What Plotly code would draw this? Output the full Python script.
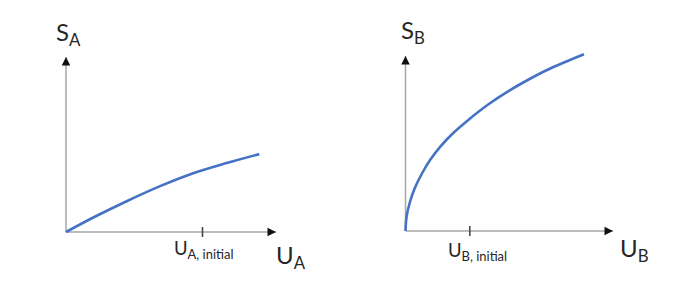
import plotly.graph_objects as go

# ---- data ----
u_a = [0, 1.30, 2.89, 4.48, 6.06, 7.65, 9.20]
s_a = [0, 0.83, 1.76, 2.62, 3.36, 3.94, 4.45]
u_b = [0, 0.05, 0.2, 0.45, 0.8, 1.2, 1.7, 2.3, 3.0, 4.0, 5.0, 6.0, 7.0, 8.6]
s_b = [0, 0.8, 1.6, 2.45, 3.3, 4.08, 4.85, 5.6, 6.32, 7.24, 8.02, 8.7, 9.3, 10.1]
u_a_initial = 6.5
u_b_initial = 3.1
axis_max = 10

W, H = 690, 296
RNG = [-1.5, 11.5]
CURVE = "#4472C4"
AXIS = "#a6a6a6"
TXT = "#262626"
FONT = "Lato"


def dom_x(origin, scale):
    return [(origin + scale * RNG[0]) / W, (origin + scale * RNG[1]) / W]


def dom_y(origin, scale):
    return [1 - (origin - scale * RNG[0]) / H, 1 - (origin - scale * RNG[1]) / H]


fig = go.Figure()
annotations = []

for xa, ya, u_init in (("x", "y", u_a_initial), ("x2", "y2", u_b_initial)):
    # axes drawn as gray shafts
    for ax_x, ax_y in (([0, axis_max], [0, 0]), ([0, 0], [0, axis_max])):
        fig.add_trace(go.Scatter(
            x=ax_x, y=ax_y, mode="lines", xaxis=xa, yaxis=ya,
            line=dict(color=AXIS, width=1.5),
            showlegend=False, hoverinfo="skip"))
    # tick mark at initial U
    fig.add_trace(go.Scatter(
        x=[u_init], y=[0], mode="markers", xaxis=xa, yaxis=ya,
        marker=dict(symbol="line-ns", size=7, line=dict(color="#404040", width=1.5)),
        showlegend=False, hoverinfo="skip"))
    # black arrowheads at the axis ends
    annotations.append(dict(xref=xa, yref=ya, axref=xa, ayref=ya, x=axis_max, y=0,
                            ax=axis_max - 0.45, ay=0, text="", showarrow=True, arrowhead=2,
                            arrowsize=1.7, arrowwidth=1.0, arrowcolor="#111111", standoff=0))
    annotations.append(dict(xref=xa, yref=ya, axref=xa, ayref=ya, x=0, y=axis_max,
                            ax=0, ay=axis_max - 0.5, text="", showarrow=True, arrowhead=2,
                            arrowsize=1.7, arrowwidth=1.0, arrowcolor="#111111", standoff=0))

fig.add_trace(go.Scatter(x=u_a, y=s_a, mode="lines",
                         line=dict(color=CURVE, width=2.6, shape="spline", smoothing=1.0),
                         xaxis="x", yaxis="y", showlegend=False, hoverinfo="skip"))
fig.add_trace(go.Scatter(x=u_b, y=s_b, mode="lines",
                         line=dict(color=CURVE, width=2.6, shape="spline", smoothing=1.0),
                         xaxis="x2", yaxis="y2", showlegend=False, hoverinfo="skip"))

ax_common = dict(range=RNG, visible=False, fixedrange=True)
fig.update_layout(
    width=W, height=H, margin=dict(l=0, r=0, t=0, b=0),
    paper_bgcolor="white", plot_bgcolor="white",
    xaxis=dict(domain=dom_x(66, 21.0), **ax_common),
    yaxis=dict(domain=dom_y(232, 17.5), **ax_common),
    xaxis2=dict(domain=dom_x(405.5, 20.75), anchor="y2", **ax_common),
    yaxis2=dict(domain=dom_y(231, 17.5), anchor="x2", **ax_common),
    font=dict(family=FONT, color=TXT),
)

# text, centre x (px), centre y (px), font size
labels = [
    ("S<sub>A</sub>", 68.5, 33, 24),
    ("S<sub>B</sub>", 412.5, 31.5, 24),
    ("U<sub>A, initial</sub>", 204, 249.5, 18.5),
    ("U<sub>B, initial</sub>", 477, 251, 18.5),
    ("U<sub>A</sub>", 291, 256, 24),
    ("U<sub>B</sub>", 634.5, 249.5, 24),
]
for text, px, py, size in labels:
    annotations.append(dict(xref="paper", yref="paper", x=px / W, y=1 - py / H,
                            xanchor="center", yanchor="middle", text=text, showarrow=False,
                            font=dict(family=FONT, size=size, color=TXT)))

fig.update_layout(annotations=annotations)
fig.write_html("out.html")
